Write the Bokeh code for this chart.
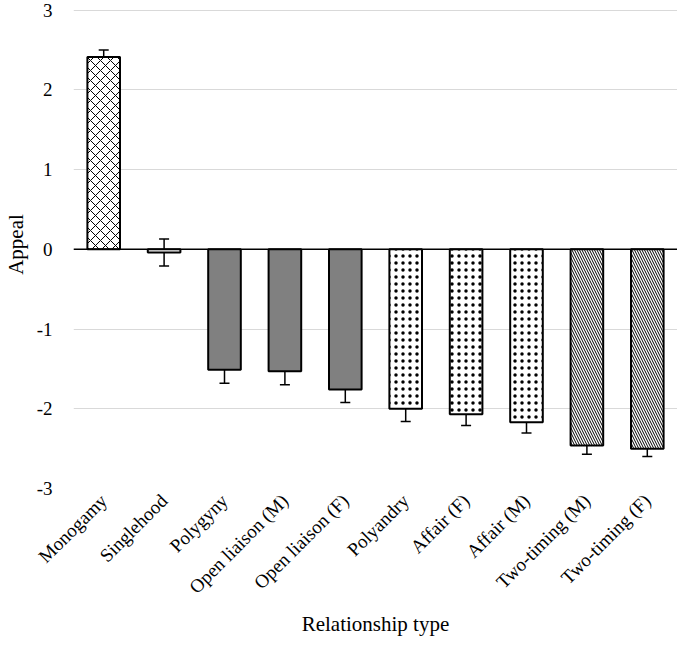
import math
from bokeh.plotting import figure
from bokeh.models import (ColumnDataSource, FactorRange, Range1d, FixedTicker,
                          Span, Whisker, TeeHead)
from bokeh.embed import file_html
from bokeh.resources import INLINE

# ---- data ----
categories = ["Monogamy", "Singlehood", "Polygyny", "Open liaison (M)",
              "Open liaison (F)", "Polyandry", "Affair (F)", "Affair (M)",
              "Two-timing (M)", "Two-timing (F)"]
appeal_mean = [2.41, -0.04, -1.51, -1.53, -1.76, -2.00, -2.07, -2.17, -2.46, -2.50]
appeal_err = [0.09, 0.17, 0.17, 0.17, 0.16, 0.16, 0.14, 0.135, 0.11, 0.10]
y_ticks = [-3, -2, -1, 0, 1, 2, 3]
x_title = "Relationship type"
y_title = "Appeal"

# ---- styles (per bar) ----
fill_colors = ["white", "white", "#808080", "#808080", "#808080",
               "white", "white", "white", "white", "white"]
hatches = ["diagonal_cross", " ", " ", " ", " ",
           "dot", "dot", "dot", "left_diagonal_line", "left_diagonal_line"]
hatch_scales = [10, 10, 10, 10, 10, 7, 7, 7, 5, 5]
hatch_weights = [1, 1, 1, 1, 1, 0.5, 0.5, 0.5, 1, 1]

FONT = "Liberation Serif"

src = ColumnDataSource(dict(
    cat=categories,
    mean=appeal_mean,
    upper=[m + e for m, e in zip(appeal_mean, appeal_err)],
    lower=[m - e for m, e in zip(appeal_mean, appeal_err)],
    fill=fill_colors,
    hatch=hatches,
    hscale=hatch_scales,
    hweight=hatch_weights,
))

p = figure(width=677, height=638, x_range=FactorRange(*categories),
           y_range=Range1d(-3, 3.12), output_backend="svg",
           toolbar_location=None, min_border_left=73, min_border_right=0,
           min_border_top=0, min_border_bottom=149)

p.vbar(x="cat", top="mean", bottom=0, width=0.54, source=src,
       fill_color="fill", line_color="black", line_width=2,
       hatch_pattern="hatch", hatch_color="black", hatch_scale="hscale",
       hatch_weight="hweight")

p.add_layout(Span(location=0, dimension="width", line_color="black",
                  line_width=1.5))

p.add_layout(Whisker(base="cat", upper="upper", lower="lower", source=src,
                     line_color="black", line_width=1.5,
                     upper_head=TeeHead(size=10, line_color="black", line_width=1.5),
                     lower_head=TeeHead(size=10, line_color="black", line_width=1.5)))

p.outline_line_color = None
p.xgrid.grid_line_color = None
p.ygrid.grid_line_color = "#d9d9d9"
p.ygrid.grid_line_width = 1
p.yaxis.ticker = FixedTicker(ticks=y_ticks)
p.yaxis.major_label_overrides = {t: str(t) for t in y_ticks}

for ax in (p.xaxis, p.yaxis):
    ax.axis_line_color = None
    ax.major_tick_line_color = None
    ax.minor_tick_line_color = None
    ax.major_tick_out = 0
    ax.major_tick_in = 0
    ax.major_label_text_font = FONT
    ax.major_label_text_font_size = "19px"
    ax.major_label_text_color = "black"
    ax.axis_label_text_font = FONT
    ax.axis_label_text_font_size = "21px"
    ax.axis_label_text_font_style = "normal"
    ax.axis_label_text_color = "black"

p.yaxis.axis_label = y_title
p.yaxis.major_label_standoff = 21
p.yaxis.axis_label_standoff = 6
p.xaxis.axis_label = x_title
p.xaxis.major_label_orientation = math.pi / 4
p.xaxis.major_label_standoff = 9
p.xaxis.axis_label_standoff = 4

open("out.html", "w").write(file_html(p, INLINE))
